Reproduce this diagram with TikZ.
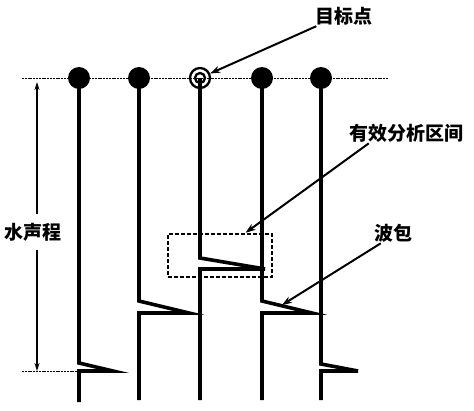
\documentclass[tikz,border=0pt]{standalone}
\usepackage{fontspec}
\newfontfamily\cjk{Noto Sans CJK SC}
\usetikzlibrary{arrows.meta,calc}
\begin{document}
\begin{tikzpicture}[x=1pt,y=-1pt,
  trace/.style={line width=3.6pt},
  sensor/.style={circle,fill=black,minimum size=22pt,inner sep=0pt},
  lbl/.style={font=\cjk\bfseries\fontsize{19}{19}\selectfont,inner sep=0pt},
  pointer/.style={line width=2pt,-{Stealth[length=10pt,width=7pt]}},
  guide/.style={line width=1pt,dash pattern=on 2pt off 0.8pt},
  dim/.style={line width=1.2pt,{Stealth[length=8pt,width=5pt]}-{Stealth[length=8pt,width=5pt]}},
  boxstyle/.style={draw,line width=2.5pt,dash pattern=on 4pt off 2pt,inner sep=0pt}]
\useasboundingbox (0,0) rectangle (474,410);
% guide lines
\coordinate (tl) at (22,78);
\coordinate (tr) at (388,78);
\coordinate (bl) at (22,371);
\coordinate (br) at (79,371);
\draw[guide] (tl) -- (tr);
\draw[guide] (bl) -- (br);
% dimension arrow
\coordinate (d1) at (37,82);
\coordinate (d2) at (37,371);
\draw[dim] (d1) -- (d2);
\node[lbl,fill=white,inner xsep=1pt,inner ysep=9pt] (water) at (33,232) {水声程};
% sensor positions
\coordinate (s1) at (79,78);
\coordinate (s2) at (139,78);
\coordinate (s3) at (200,78);
\coordinate (s4) at (262,78);
\coordinate (s5) at (321,78);
% traces
\draw[trace] (s1) -- (79,363) -- (113,371) -- (79,371) -- (79,402);
\draw[trace] (s2) -- (139,301) -- (189,313) -- (139,313) -- (139,400);
\draw[trace] (s3) -- (200,258) -- (265,269) -- (200,269) -- (200,400);
\draw[trace] (s4) -- (262,301) -- (312,313) -- (262,313) -- (262,400);
\draw[trace] (s5) -- (321,364) -- (358,371) -- (321,371) -- (321,400);
% sensors
\node[sensor] (n1) at (s1) {};
\node[sensor] (n2) at (s2) {};
\node[circle,draw,line width=2.3pt,minimum size=20pt,inner sep=0pt] (n3) at (s3) {};
\node[circle,draw,line width=2.3pt,minimum size=10pt,inner sep=0pt] (n3in) at (s3) {};
\node[sensor] (n4) at (s4) {};
\node[sensor] (n5) at (s5) {};
% analysis window
\node[boxstyle,minimum width=104pt,minimum height=43pt] (box) at (220,255.5) {};
% labels
\node[lbl] (tgt) at (344,16) {目标点};
\node[lbl] (win) at (406,133) {有效分析区间};
\node[lbl] (pkt) at (393,233) {波包};
\coordinate (winend) at ($(box.north)!0.48!(box.north east)$);
\coordinate (pktend) at (282,305);
\draw[pointer] ([xshift=1pt,yshift=-1pt]tgt.south west) -- (n3);
\draw[pointer] ([xshift=20pt,yshift=-1pt]win.south west) -- (winend);
\draw[pointer] ([xshift=7pt,yshift=-1pt]pkt.south west) -- (pktend);
\end{tikzpicture}
\end{document}
